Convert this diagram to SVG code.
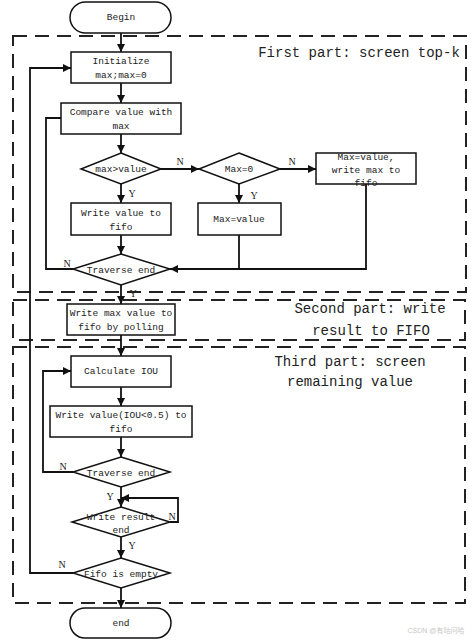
<svg xmlns="http://www.w3.org/2000/svg" width="474" height="641" viewBox="0 0 474 641">
<style>
.s{fill:#fff;stroke:#111;stroke-width:1.5}
.t{font-family:"Liberation Mono",monospace;font-size:9.5px;fill:#222;text-anchor:middle;dominant-baseline:central}
.l{font-family:"Liberation Mono",monospace;font-size:14px;fill:#222;text-anchor:middle;dominant-baseline:central}
.y{font-family:"Liberation Serif",serif;font-size:10px;fill:#222;text-anchor:middle;dominant-baseline:central}
.d{fill:none;stroke:#222;stroke-width:2;stroke-dasharray:14 8}
.c{fill:none;stroke:#111;stroke-width:1.8}
.a{marker-end:url(#ah)}
</style>
<defs>
<marker id="ah" viewBox="0 0 10 10" refX="10" refY="5" markerWidth="10" markerHeight="8" markerUnits="userSpaceOnUse" orient="auto">
<path d="M0,0 L10,5 L0,10 z" fill="#111"/>
</marker>
</defs>
<rect width="474" height="641" fill="#fff"/>
<g id="parts">
<rect class="d" x="13" y="36" width="453" height="256"/>
<rect class="d" x="13" y="300" width="452" height="40"/>
<rect class="d" x="13" y="347" width="452" height="256"/>
<text class="l" x="359" y="53">First part: screen top-k</text>
<text class="l" x="370" y="309">Second part: write</text>
<text class="l" x="371" y="331">result to FIFO</text>
<text class="l" x="350" y="362">Third part: screen</text>
<text class="l" x="350" y="382">remaining value</text>
</g>
<g id="connectors">
<path class="c a" d="M121,33 V52"/>
<path class="c a" d="M121,83 V103"/>
<path class="c a" d="M121,134 V153"/>
<path class="c a" d="M161,169 H199"/>
<path class="c a" d="M280,169 H316"/>
<path class="c a" d="M239,184 V203"/>
<path class="c a" d="M121,184 V203"/>
<path class="c a" d="M121,235 V254"/>
<path class="c" d="M239,235 V269"/>
<path class="c a" d="M366,184 V269 H170"/>
<path class="c" d="M73,269 H46 V118 H61"/>
<path class="c a" d="M121,285 V304"/>
<path class="c a" d="M121,335 V356"/>
<path class="c a" d="M121,387 V406"/>
<path class="c a" d="M121,437 V457"/>
<path class="c a" d="M73,472 H43 V371 H71"/>
<path class="c a" d="M121,487 V507"/>
<path class="c a" d="M170,522 H178 V498 H121"/>
<path class="c a" d="M121,537 V558"/>
<path class="c a" d="M73,573 H30 V68 H71"/>
<path class="c a" d="M121,588 V608"/>
<text class="y" x="180" y="161">N</text>
<text class="y" x="292" y="161">N</text>
<text class="y" x="254" y="195">Y</text>
<text class="y" x="132" y="193">Y</text>
<text class="y" x="67" y="263">N</text>
<text class="y" x="133" y="293">Y</text>
<text class="y" x="63" y="466">N</text>
<text class="y" x="110" y="496">Y</text>
<text class="y" x="172" y="516">N</text>
<text class="y" x="132" y="545">Y</text>
<text class="y" x="62" y="564">N</text>
</g>
<g id="begin"><rect class="s" x="70" y="2" width="101" height="31" rx="15.5"/><text class="t" x="121" y="17.5">Begin</text></g>
<g id="init"><rect class="s" x="71" y="52" width="100" height="31"/><text class="t" x="121" y="61">Initialize</text><text class="t" x="121" y="75">max;max=0</text></g>
<g id="compare"><rect class="s" x="61" y="103" width="120" height="31"/><text class="t" x="121" y="112">Compare value with</text><text class="t" x="121" y="126">max</text></g>
<g id="d-maxvalue"><polygon class="s" points="121,153 161,169 121,184 81,169"/><text class="t" x="121" y="169">max&gt;value</text></g>
<g id="d-max0"><polygon class="s" points="239,153 280,169 239,184 199,169"/><text class="t" x="239" y="169">Max=0</text></g>
<g id="maxwrite"><rect class="s" x="316" y="153" width="100" height="31"/><text class="t" x="366" y="157">Max=value,</text><text class="t" x="366" y="170">write max to</text><text class="t" x="366" y="183">fifo</text></g>
<g id="writevalue"><rect class="s" x="71" y="203" width="100" height="32"/><text class="t" x="121" y="213">Write value to</text><text class="t" x="121" y="227">fifo</text></g>
<g id="maxvalue"><rect class="s" x="198" y="203" width="83" height="32"/><text class="t" x="239" y="219">Max=value</text></g>
<g id="d-traverse1"><polygon class="s" points="121,254 170,269 121,285 73,269"/><text class="t" x="121" y="270">Traverse end</text></g>
<g id="writemax"><rect class="s" x="67" y="304" width="108" height="31"/><text class="t" x="121" y="313">Write max value to</text><text class="t" x="121" y="327">fifo by polling</text></g>
<g id="calc"><rect class="s" x="71" y="356" width="100" height="31"/><text class="t" x="121" y="371.5">Calculate IOU</text></g>
<g id="writeiou"><rect class="s" x="50" y="406" width="142" height="31"/><text class="t" x="121" y="415">Write value(IOU&lt;0.5) to</text><text class="t" x="121" y="429">fifo</text></g>
<g id="d-traverse2"><polygon class="s" points="121,457 170,472 121,487 73,472"/><text class="t" x="121" y="473">Traverse end</text></g>
<g id="d-writeresult"><polygon class="s" points="121,507 170,522 121,537 72,522"/><text class="t" x="121" y="517">Write result</text><text class="t" x="121" y="530">end</text></g>
<g id="d-fifoempty"><polygon class="s" points="121,558 170,573 121,588 73,573"/><text class="t" x="121" y="574">Fifo is empty</text></g>
<g id="end"><rect class="s" x="70" y="608" width="101" height="30" rx="15"/><text class="t" x="121" y="623">end</text></g>
<text x="436" y="633" font-family="'Liberation Sans','Noto Sans CJK SC',sans-serif" font-size="7" fill="#c8c8c8" text-anchor="middle">CSDN @有咕问哈</text>
</svg>
